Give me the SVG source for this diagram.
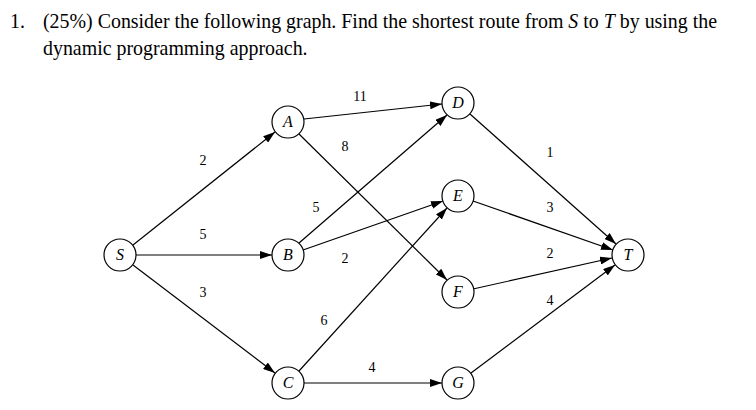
<svg xmlns="http://www.w3.org/2000/svg" width="756" height="410" viewBox="0 0 756 410">
<style>
text{font-family:"Liberation Serif",serif;fill:#000}
.h{font-size:19.9px}
.n{font-size:16px;font-style:italic;text-anchor:middle}
.l{font-size:14px;text-anchor:middle}
circle{fill:#fff;stroke:#000;stroke-width:1.2}
line{stroke:#000;stroke-width:1.2;marker-end:url(#a)}
</style>
<defs><marker id="a" markerWidth="12" markerHeight="8" refX="12" refY="4" orient="auto" markerUnits="userSpaceOnUse"><path d="M0,0L12,4L0,8z"/></marker></defs>
<rect width="756" height="410" fill="#fff"/>
<text class="h" x="10" y="28">1.</text>
<text class="h" x="43" y="28">(25%) Consider the following graph. Find the shortest route from <tspan font-style="italic">S</tspan> to <tspan font-style="italic">T</tspan> by using the</text>
<text class="h" x="43" y="55">dynamic programming approach.</text>
<g id="connectors">
<line x1="133" y1="245" x2="275" y2="132"/>
<line x1="136" y1="255" x2="272" y2="255"/>
<line x1="133" y1="265" x2="275" y2="373"/>
<line x1="304" y1="119" x2="442" y2="104"/>
<line x1="299" y1="134" x2="447" y2="280"/>
<line x1="299" y1="243" x2="447" y2="115"/>
<line x1="303" y1="250" x2="443" y2="201"/>
<line x1="299" y1="371" x2="447" y2="208"/>
<line x1="304" y1="383" x2="442" y2="383"/>
<line x1="470" y1="114" x2="616" y2="244"/>
<line x1="473" y1="201" x2="613" y2="250"/>
<line x1="473" y1="289" x2="612" y2="258"/>
<line x1="471" y1="373" x2="615" y2="265"/>
<text class="l" x="203" y="165">2</text>
<text class="l" x="203" y="239">5</text>
<text class="l" x="203" y="297">3</text>
<text class="l" x="360" y="101">11</text>
<text class="l" x="345" y="151">8</text>
<text class="l" x="316" y="212">5</text>
<text class="l" x="345" y="263">2</text>
<text class="l" x="324" y="325">6</text>
<text class="l" x="372" y="372">4</text>
<text class="l" x="550" y="157">1</text>
<text class="l" x="550" y="212">3</text>
<text class="l" x="550" y="258">2</text>
<text class="l" x="550" y="305">4</text>
</g>
<g id="S"><circle cx="120" cy="255" r="16"/><text class="n" x="120" y="260">S</text></g>
<g id="A"><circle cx="288" cy="122" r="16"/><text class="n" x="288" y="127">A</text></g>
<g id="B"><circle cx="288" cy="255" r="16"/><text class="n" x="288" y="260">B</text></g>
<g id="C"><circle cx="288" cy="383" r="16"/><text class="n" x="288" y="388">C</text></g>
<g id="D"><circle cx="458" cy="103" r="16"/><text class="n" x="458" y="108">D</text></g>
<g id="E"><circle cx="458" cy="196" r="16"/><text class="n" x="458" y="201">E</text></g>
<g id="F"><circle cx="458" cy="292" r="16"/><text class="n" x="458" y="297">F</text></g>
<g id="G"><circle cx="458" cy="383" r="16"/><text class="n" x="458" y="388">G</text></g>
<g id="T"><circle cx="628" cy="255" r="16"/><text class="n" x="628" y="260">T</text></g>
</svg>
